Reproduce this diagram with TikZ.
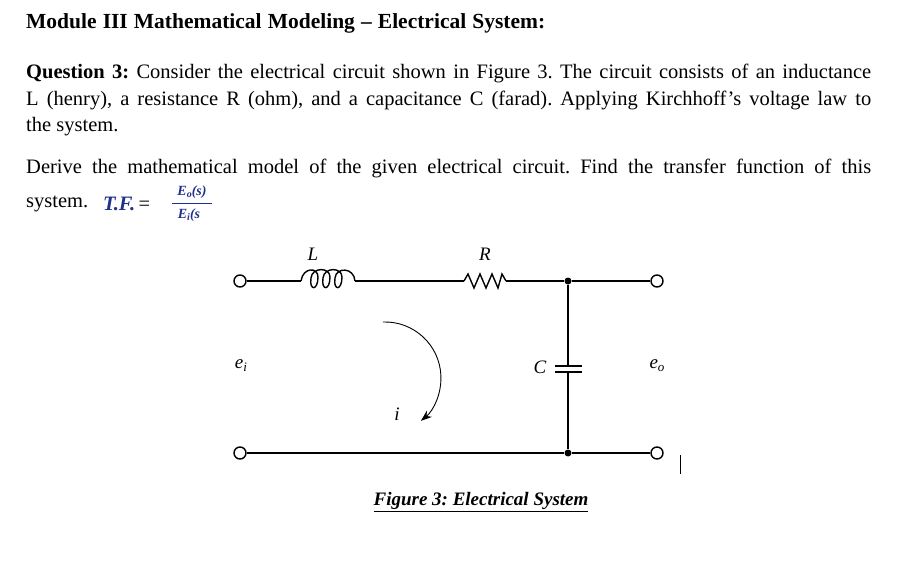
\documentclass[tikz,border=0pt]{standalone}
\usepackage{fontspec}
\setmainfont{Liberation Serif}
\usetikzlibrary{arrows.meta}
\definecolor{tfblue}{RGB}{32,48,140}
\begin{document}
\frenchspacing
\begin{tikzpicture}[x=1pt,y=-1pt,
  txt/.style={anchor=west,inner sep=0pt,font=\fontsize{20.5}{22}\selectfont},
  lab/.style={inner sep=0pt,font=\fontsize{19}{22}\selectfont\itshape},
  wire/.style={line width=1.4pt},
  term/.style={circle,draw,line width=1.4pt,fill=white,minimum size=12pt,inner sep=0pt},
  dot/.style={circle,fill,minimum size=7pt,inner sep=0pt},
  tfb/.style={inner sep=0pt,text=tfblue,font=\fontsize{14}{15}\selectfont\bfseries\itshape}]
\useasboundingbox (0,0) rectangle (914,575);
\node[txt,font=\fontsize{21.5}{23}\selectfont\bfseries] (title) at (26,23) {\makebox[519pt][s]{Module III Mathematical Modeling – Electrical System:}};
\node[txt] (l1) at (26,73) {\makebox[845pt][s]{\textbf{Question 3:} Consider the electrical circuit shown in Figure 3. The circuit consists of an inductance}};
\node[txt] (l2) at (26,100) {\makebox[845pt][s]{L (henry), a resistance R (ohm), and a capacitance C (farad). Applying Kirchhoff’s voltage law to}};
\node[txt] (l3) at (26,127) {the system.};
\node[txt] (l4) at (26,168) {\makebox[845pt][s]{Derive the mathematical model of the given electrical circuit. Find the transfer function of this}};
\node[txt] (l5) at (26,204) {system.};
\node[txt,text=tfblue,font=\fontsize{20.5}{22}\selectfont\bfseries\itshape] (tf) at (103,204) {T.F.\textnormal{\textcolor{black}{\,=}}};
\node[tfb] (num) at (192,192) {E\raisebox{-2pt}{\fontsize{10}{10}\selectfont o}(s)};
\node[tfb] (den) at (189,215) {E\raisebox{-2pt}{\fontsize{10}{10}\selectfont i}(s};
\draw[tfblue,line width=0.7pt] (172,203) -- (212,203);
% circuit
\node[term] (t1) at (240,281) {};
\node[term] (t2) at (240,453) {};
\node[term] (t3) at (657,281) {};
\node[term] (t4) at (657,453) {};
\coordinate (la) at (301,281);
\coordinate (lb) at (355,281);
\coordinate (ra) at (464,281);
\coordinate (rb) at (506,281);
\node[dot] (j1) at (568,281) {};
\node[dot] (j2) at (568,453) {};
\coordinate (c1) at (568,366);
\coordinate (c2) at (568,372);
\draw[wire] (t1) -- (la);
\draw[wire] (la) .. controls (303,267) and (318,267) .. (318,277) .. controls (318,291) and (309,291) .. (311,278)
  .. controls (312,267) and (330,267) .. (330,277) .. controls (330,291) and (321,291) .. (323,278)
  .. controls (324,267) and (342,267) .. (342,277) .. controls (342,291) and (333,291) .. (335,278)
  .. controls (336,267) and (354,267) .. (lb);
\draw[wire] (lb) -- (ra);
\draw[wire,line join=miter] (ra) -- (468,274) -- (474,288) -- (480,274) -- (486,288) -- (492,274) -- (498,288) -- (502,274) -- (rb);
\draw[wire] (rb) -- (j1) -- (t3);
\draw[wire] (t2) -- (j2) -- (t4);
\draw[wire] (j1) -- (c1);
\draw[wire] (c2) -- (j2);
\draw[wire] (555,366) -- (582,366);
\draw[wire] (555,372) -- (582,372);
\draw[line width=0.9pt,-{Stealth[length=11pt,width=8pt]}] (383,322) arc[start angle=-92,end angle=50,radius=56];
\draw[line width=0.8pt] (680,455) -- (680,474);
\node[lab] (L) at (313,254) {L};
\node[lab] (R) at (485,254) {R};
\node[lab] (ei) at (241,366) {e\raisebox{-3pt}{\fontsize{13}{14}\selectfont i}};
\node[lab] (C) at (540,367) {C};
\node[lab] (eo) at (657,366) {e\raisebox{-3pt}{\fontsize{13}{14}\selectfont o}};
\node[lab] (i) at (397,414) {i};
\node[inner sep=0pt,font=\fontsize{19}{20}\selectfont\bfseries\itshape] (cap) at (481,502) {\underline{Figure 3: Electrical System}};
\end{tikzpicture}
\end{document}
